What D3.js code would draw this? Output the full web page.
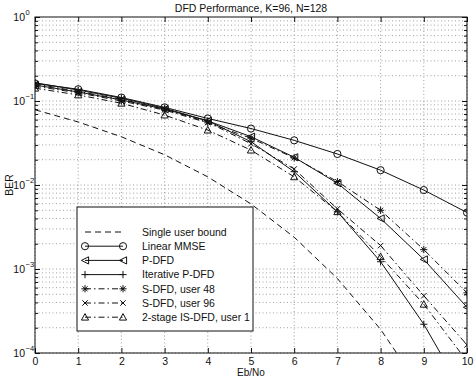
<!DOCTYPE html>
<html><head><meta charset="utf-8">
<script src="https://cdn.jsdelivr.net/npm/d3@7"></script>
<style>
body{margin:0;background:#fff;}
text{font-family:"Liberation Sans",Arial,sans-serif;fill:#111;}
</style></head><body>
<svg id="c" width="474" height="377"></svg>
<script>
const ebno = [0,1,2,3,4,5,6,7,8,9,10];
const singleUser = [0.0786,0.0563,0.0375,0.0229,0.0125,0.00595,0.00239,0.00077,0.000191,0.0000336,0.0000039];
const linearMMSE = [0.162,0.138,0.11,0.084,0.062,0.047,0.034,0.0234,0.015,0.0087,0.0047];
const pDFD = [0.155,0.128,0.103,0.08,0.058,0.0376,0.0214,0.0105,0.004,0.0013,0.00035];
const iterPDFD = [0.165,0.135,0.108,0.082,0.058,0.0327,0.0144,0.0048,0.00122,0.00022,0.000028];
const sdfd48 = [0.15,0.125,0.1,0.078,0.055,0.036,0.021,0.011,0.005,0.0017,0.00052];
const sdfd96 = [0.16,0.13,0.105,0.08,0.056,0.031,0.0155,0.0052,0.0019,0.00048,0.000125];
const isdfd1 = [0.142,0.118,0.094,0.068,0.045,0.026,0.0125,0.0048,0.0014,0.00038,0.00008];
const xTicks = [0,1,2,3,4,5,6,7,8,9,10];
const yTicks = [1e-4,1e-3,1e-2,1e-1,1];
const yExp = ["-4","-3","-2","-1","0"];
const seriesNames = ["Single user bound","Linear MMSE","P-DFD","Iterative P-DFD","S-DFD, user 48","S-DFD, user 96","2-stage IS-DFD, user 1"];
const title = "DFD Performance, K=96, N=128";

const series = [
  {name:seriesNames[0], v:singleUser, dash:"6,4", m:null},
  {name:seriesNames[1], v:linearMMSE, dash:null, m:"o"},
  {name:seriesNames[2], v:pDFD, dash:null, m:"<"},
  {name:seriesNames[3], v:iterPDFD, dash:null, m:"+"},
  {name:seriesNames[4], v:sdfd48, dash:"6,3,1.5,3", m:"*"},
  {name:seriesNames[5], v:sdfd96, dash:"6,3,1.5,3", m:"x"},
  {name:seriesNames[6], v:isdfd1, dash:"6,3,1.5,3", m:"^"}
];

const L=35,R=467,T=17,B=353;
const svg=d3.select("#c");
const x=d3.scaleLinear().domain([0,10]).range([L,R]);
const y=d3.scaleLog().domain([1e-4,1]).range([B,T]);

svg.append("defs").append("clipPath").attr("id","clip").append("rect")
  .attr("x",L).attr("y",T).attr("width",R-L).attr("height",B-T);

// grid
const g=svg.append("g");
const minor=[];
for(let e=-4;e<0;e++) for(let k=1;k<10;k++) minor.push(k*Math.pow(10,e));
g.selectAll(".hy").data(minor).join("line")
  .attr("x1",L).attr("x2",R).attr("y1",d=>y(d)).attr("y2",d=>y(d))
  .attr("stroke","#888").attr("stroke-width",0.8).attr("stroke-dasharray","1,2.5");
g.selectAll(".vx").data(xTicks).join("line")
  .attr("y1",T).attr("y2",B).attr("x1",d=>x(d)).attr("x2",d=>x(d))
  .attr("stroke","#888").attr("stroke-width",0.8).attr("stroke-dasharray","1,2.5");

// axes with inward ticks
const axB=d3.axisBottom(x).tickValues(xTicks).tickSizeInner(-5).tickSizeOuter(0).tickPadding(5);
svg.append("g").attr("transform",`translate(0,${B})`).call(axB)
  .call(s=>{s.select(".domain").remove();s.selectAll("text").attr("font-size",10.5).style("font-family","Liberation Sans, Arial");});
const axT=d3.axisTop(x).tickValues(xTicks).tickSizeInner(-5).tickSizeOuter(0).tickFormat("");
svg.append("g").attr("transform",`translate(0,${T})`).call(axT).call(s=>s.select(".domain").remove());
const axL=d3.axisLeft(y).tickValues(yTicks).tickSizeInner(-5).tickSizeOuter(0).tickFormat("");
svg.append("g").attr("transform",`translate(${L},0)`).call(axL).call(s=>s.select(".domain").remove());
const axR=d3.axisRight(y).tickValues(yTicks).tickSizeInner(-5).tickSizeOuter(0).tickFormat("");
svg.append("g").attr("transform",`translate(${R},0)`).call(axR).call(s=>s.select(".domain").remove());
const mn=minor.filter(d=>![1e-4,1e-3,1e-2,1e-1].includes(d));
svg.append("g").attr("transform",`translate(${L},0)`).call(d3.axisLeft(y).tickValues(mn).tickSizeInner(-3).tickSizeOuter(0).tickFormat("")).call(s=>s.select(".domain").remove());
svg.append("g").attr("transform",`translate(${R},0)`).call(d3.axisRight(y).tickValues(mn).tickSizeInner(-3).tickSizeOuter(0).tickFormat("")).call(s=>s.select(".domain").remove());
svg.selectAll(".tick line").attr("stroke","#111");

// y tick labels
yTicks.forEach((t,i)=>{
  svg.append("text").attr("x",25).attr("y",y(t)+4).attr("text-anchor","end").attr("font-size",10.5).text("10");
  svg.append("text").attr("x",25.5).attr("y",y(t)-2).attr("font-size",7.5).text(yExp[i].replace("-","\u2212"));
});

// frame
svg.append("rect").attr("x",L).attr("y",T).attr("width",R-L).attr("height",B-T)
  .attr("fill","none").attr("stroke","#111").attr("stroke-width",1);

// markers
function marker(sel,type,cx,cy){
  const r=3.6;
  let p="";
  if(type==="o"){sel.append("circle").attr("cx",cx).attr("cy",cy).attr("r",r).attr("fill","none").attr("stroke","#111").attr("stroke-width",1);return;}
  if(type==="<") p=`M${cx-r},${cy}L${cx+r},${cy-r}L${cx+r},${cy+r}Z`;
  if(type==="^") p=`M${cx},${cy-r}L${cx+r},${cy+r*0.8}L${cx-r},${cy+r*0.8}Z`;
  if(type==="+") p=`M${cx-r},${cy}L${cx+r},${cy}M${cx},${cy-r}L${cx},${cy+r}`;
  if(type==="x") p=`M${cx-r*0.75},${cy-r*0.75}L${cx+r*0.75},${cy+r*0.75}M${cx-r*0.75},${cy+r*0.75}L${cx+r*0.75},${cy-r*0.75}`;
  if(type==="*") p=`M${cx-r},${cy}L${cx+r},${cy}M${cx},${cy-r}L${cx},${cy+r}M${cx-r*0.7},${cy-r*0.7}L${cx+r*0.7},${cy+r*0.7}M${cx-r*0.7},${cy+r*0.7}L${cx+r*0.7},${cy-r*0.7}`;
  sel.append("path").attr("d",p).attr("fill","none").attr("stroke","#111").attr("stroke-width",1);
}

const plot=svg.append("g").attr("clip-path","url(#clip)");
const line=d3.line().x((d,i)=>x(ebno[i])).y(d=>y(d));
series.forEach(s=>{
  plot.append("path").attr("d",line(s.v)).attr("fill","none").attr("stroke","#111")
    .attr("stroke-width",1).attr("stroke-dasharray",s.dash);
  if(s.m){
    const mg=plot.append("g");
    s.v.forEach((v,i)=>{ if(v>=1e-4) marker(mg,s.m,x(ebno[i]),y(v)); });
  }
});

// legend
const lg=svg.append("g");
lg.append("rect").attr("x",77).attr("y",207).attr("width",176).attr("height",124)
  .attr("fill","#fff").attr("stroke","#111").attr("stroke-width",1);
series.forEach((s,i)=>{
  const yy=232+i*14.2;
  lg.append("line").attr("x1",85).attr("x2",123).attr("y1",yy).attr("y2",yy)
    .attr("stroke","#111").attr("stroke-width",1).attr("stroke-dasharray",s.dash);
  if(s.m){marker(lg,s.m,85,yy);marker(lg,s.m,123,yy);}
  lg.append("text").attr("x",142).attr("y",yy+3.8).attr("font-size",10.5).text(s.name);
});

// titles
svg.append("text").attr("x",251).attr("y",12).attr("text-anchor","middle").attr("font-size",10.5).text(title);
svg.append("text").attr("x",251).attr("y",376).attr("text-anchor","middle").attr("font-size",10).text("Eb/No");
svg.append("text").attr("transform","translate(13,185) rotate(-90)").attr("text-anchor","middle").attr("font-size",10.5).text("BER");
</script>
</body></html>
